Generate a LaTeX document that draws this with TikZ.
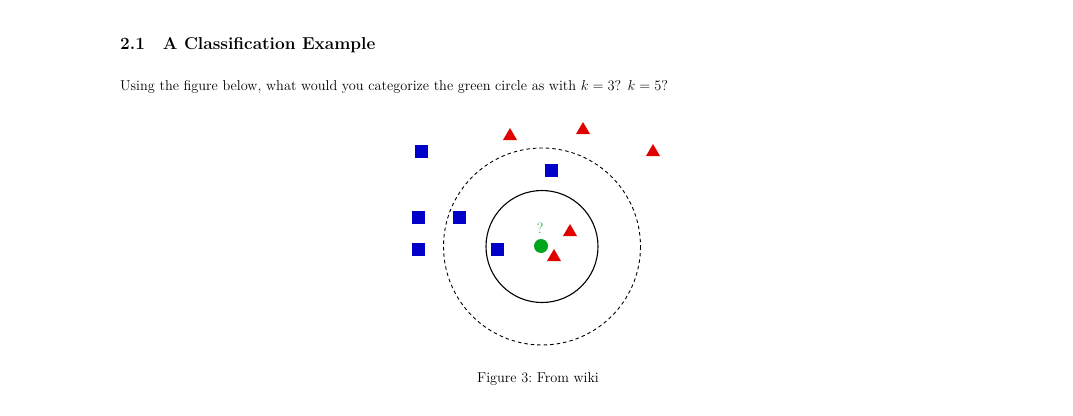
\documentclass[tikz,border=0pt]{standalone}
\usepackage{fontspec}
\usepackage{tikz}
\definecolor{sqblue}{RGB}{0,0,200}
\definecolor{trired}{RGB}{225,0,0}
\definecolor{dotgreen}{RGB}{0,165,30}
\begin{document}
\begin{tikzpicture}[x=1pt,y=-1pt,
  sq/.style={fill=sqblue,minimum size=13pt,inner sep=0,draw=none},
  body/.style={font=\fontsize{14.3}{17}\selectfont,inner sep=0}]
\useasboundingbox (0,0) rectangle (1073,415);
\draw[gray!25,line width=6pt] (-30,440) ++(100:74) arc (100:0:74);
\node[anchor=base west,inner sep=0,font=\fontsize{17.2}{20}\selectfont\bfseries] (h) at (120,49) {2.1\hspace{18pt}A Classification Example};
\node[body,anchor=base west] (t) at (120,90) {Using the figure below, what would you categorize the green circle as with $k=3$? $k=5$?};
\draw[line width=0.9pt,dash pattern=on 3.5pt off 3pt] (542,246.5) circle (98.5);
\draw[line width=1.1pt] (542,246.5) circle (56);
\foreach \n/\x/\y in {s1/421/151,s2/551/170,s3/418/217,s4/459/217,s5/418/249,s6/497/249}
  \node[sq] (\n) at (\x,\y) {};
\foreach \n/\x/\y in {t1/510/135,t2/583/129,t3/653/151,t4/570/231,t5/554/256}
  \fill[trired] (\x,\y-7) -- (\x+7,\y+5) -- (\x-7,\y+5) -- cycle;
\node[circle,fill=dotgreen,minimum size=14pt,inner sep=0] (g) at (541,246) {};
\node[text=dotgreen,font=\fontsize{15}{16}\selectfont,inner sep=0] (q) at (540,228) {?};
\node[body,anchor=base] (c) at (538,382) {Figure 3:\ From wiki};
\end{tikzpicture}
\end{document}
